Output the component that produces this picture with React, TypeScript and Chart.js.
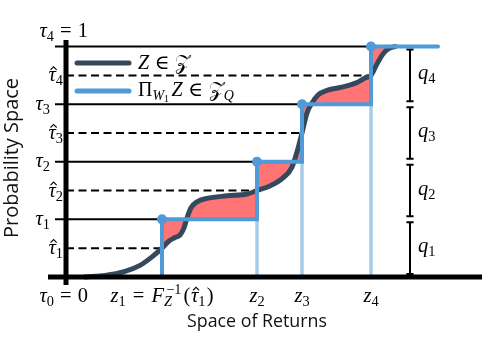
import React, { useEffect, useRef } from "react";
import { Chart, registerables } from "chart.js";
Chart.register(...registerables);

// ---------- data (x: return value, y: cumulative probability) ----------
const tauLevels = [0, 0.25, 0.5, 0.75, 1];
const tauHats = [0.125, 0.375, 0.625, 0.875];
const zValues = [4.8, 9.55, 11.8, 15.25];
const stepEndX = 18.6;
const curveX = [0.95, 1.95, 2.95, 3.7, 4.3, 4.8, 5.15, 5.45, 5.7, 5.9, 6.05, 6.25, 6.55, 7.05, 8.05, 9.05, 9.55, 10.2, 10.85, 11.3, 11.55, 11.8, 12.05, 12.3, 12.6, 13.05, 13.85, 14.55, 14.95, 15.25, 15.55, 15.85, 16.15, 16.45];
const curveY = [0, 0.0065, 0.024, 0.05, 0.087, 0.125, 0.156, 0.171, 0.182, 0.213, 0.256, 0.3, 0.326, 0.341, 0.352, 0.36, 0.375, 0.395, 0.43, 0.477, 0.543, 0.625, 0.712, 0.755, 0.79, 0.81, 0.825, 0.844, 0.864, 0.875, 0.925, 0.968, 0.992, 1.0];
const xRange = [-0.9, 20.8];
const yRange = [-0.035, 1.0286];
const tickStartX = -0.55;
const bracketX = 17.2;
const bracketGap = 0.013;
const bracketCap = 0.18;

const DARK = "#34495e";
const BLUE = "#4f9ad7";
const LIGHT_BLUE = "#a8cbe9";
const RED = "#ff7575";
const SERIF = '"Liberation Serif", "DejaVu Serif", serif';
const SANS = '"Open Sans", "DejaVu Sans", sans-serif';
const MATH = 20.5;
const LEG = 20;

type Tok = { t: string; it?: boolean; k?: "b" | "sub" | "sup" | "ss"; hat?: boolean; stack?: boolean; pre?: number; fam?: string };

function drawMath(ctx: CanvasRenderingContext2D, toks: Tok[], x: number, y: number, size: number, align: "left" | "right" | "center") {
  const items: any[] = [];
  let cur = 0;
  let lastStart = 0;
  for (const tk of toks) {
    const k = tk.k || "b";
    const s = k === "b" ? size : k === "ss" ? size * 0.5 : size * 0.7;
    const dy = k === "sub" ? size * 0.2 : k === "ss" ? size * 0.32 : k === "sup" ? -size * 0.4 : 0;
    const font = `${tk.it ? "italic " : ""}${s.toFixed(2)}px ${tk.fam || SERIF}`;
    ctx.font = font;
    const w = ctx.measureText(tk.t).width;
    let x0: number;
    if (tk.stack) {
      x0 = lastStart + (tk.pre || 0) * size;
      cur = Math.max(cur, x0 + w);
    } else {
      x0 = cur + (tk.pre || 0) * size;
      cur = x0 + w;
    }
    lastStart = x0;
    items.push({ tk, font, x0, dy, w, s });
  }
  const off = align === "left" ? x : align === "right" ? x - cur : x - cur / 2;
  ctx.save();
  ctx.fillStyle = "#000";
  ctx.strokeStyle = "#000";
  ctx.textAlign = "left";
  ctx.textBaseline = "alphabetic";
  for (const it of items) {
    ctx.font = it.font;
    ctx.fillText(it.tk.t, off + it.x0, y + it.dy);
    if (it.tk.hat) {
      const cx = off + it.x0 + it.w / 2 + 0.07 * it.s;
      const by = y + it.dy;
      ctx.beginPath();
      ctx.lineWidth = 1.1;
      ctx.moveTo(cx - 0.15 * it.s, by - 0.56 * it.s);
      ctx.lineTo(cx, by - 0.71 * it.s);
      ctx.lineTo(cx + 0.15 * it.s, by - 0.56 * it.s);
      ctx.stroke();
    }
  }
  ctx.restore();
}

function fitText(ctx: CanvasRenderingContext2D, text: string, width: number, base: number) {
  ctx.font = `${base}px ${SANS}`;
  const w = ctx.measureText(text).width;
  const size = (base * width) / w;
  ctx.font = `${size.toFixed(2)}px ${SANS}`;
}

const annotations = {
  id: "annotations",
  afterDatasetsDraw(chart: any) {
    const ctx: CanvasRenderingContext2D = chart.ctx;
    const xs = chart.scales.x;
    const ys = chart.scales.y;
    const X = (v: number) => xs.getPixelForValue(v);
    const Y = (v: number) => ys.getPixelForValue(v);
    const axisX = X(0);
    const area = chart.chartArea;

    // left tick labels
    drawMath(ctx, [{ t: "τ", it: true }, { t: "4", k: "sub" }, { t: "=", pre: 0.3 }, { t: "1", pre: 0.3 }], axisX + 22, Y(1) - 10, MATH, "right");
    drawMath(ctx, [{ t: "τ", it: true }, { t: "0", k: "sub" }, { t: "=", pre: 0.3 }, { t: "0", pre: 0.3 }], axisX + 22, Y(0) + 25, MATH, "right");
    for (let k = 1; k <= 3; k++) {
      drawMath(ctx, [{ t: "τ", it: true }, { t: String(k), k: "sub" }], axisX - 16, Y(tauLevels[k]) + 5.5, MATH, "right");
    }
    for (let k = 0; k < 4; k++) {
      drawMath(ctx, [{ t: "τ", it: true, hat: true }, { t: String(k + 1), k: "sub" }], axisX - 3, Y(tauHats[k]) + 6, MATH, "right");
    }
    // bottom labels
    drawMath(ctx, [
      { t: "z", it: true }, { t: "1", k: "sub" }, { t: "=", pre: 0.35 }, { t: "F", it: true, pre: 0.35 },
      { t: "Z", it: true, k: "sub" }, { t: "−1", k: "sup", stack: true, pre: 0.1 },
      { t: "(", pre: 0.1 }, { t: "τ", it: true, hat: true, pre: 0.03 }, { t: "1", k: "sub" }, { t: ")", pre: 0.06 },
    ], X(zValues[0]), Y(0) + 25, MATH, "center");
    for (let k = 1; k < 4; k++) {
      drawMath(ctx, [{ t: "z", it: true }, { t: String(k + 1), k: "sub" }], X(zValues[k]), Y(0) + 25, MATH, "center");
    }
    // q labels
    for (let k = 0; k < 4; k++) {
      drawMath(ctx, [{ t: "q", it: true }, { t: String(k + 1), k: "sub" }], X(bracketX) + 8, Y(tauHats[k]) + 4, MATH, "left");
    }
    // legend
    const lx0 = area.left + 29, lx1 = area.left + 81;
    const rows = [area.top + 23, area.top + 51];
    const cols = [DARK, BLUE];
    ctx.save();
    ctx.lineCap = "round";
    ctx.lineWidth = 5;
    for (let i = 0; i < 2; i++) {
      ctx.strokeStyle = cols[i];
      ctx.beginPath();
      ctx.moveTo(lx0, rows[i]);
      ctx.lineTo(lx1, rows[i]);
      ctx.stroke();
    }
    ctx.restore();
    drawMath(ctx, [{ t: "Z", it: true }, { t: "∈", pre: 0.28 }, { t: "𝒵", pre: 0.28 }], area.left + 90, rows[0] + 6, LEG, "left");
    drawMath(ctx, [
      { t: "Π" }, { t: "W", it: true, k: "sub" }, { t: "1", k: "ss" }, { t: "Z", it: true, pre: 0.12 },
      { t: "∈", pre: 0.28 }, { t: "𝒵", pre: 0.28 }, { t: "Q", it: true, k: "sub" },
    ], area.left + 90, rows[1] + 5, LEG, "left");

    // axis titles
    ctx.save();
    ctx.fillStyle = "#111";
    ctx.textAlign = "center";
    ctx.textBaseline = "alphabetic";
    fitText(ctx, "Space of Returns", 140, 16);
    ctx.fillText("Space of Returns", area.left + 209, 327);
    ctx.translate(18, area.top + 118);
    ctx.rotate(-Math.PI / 2);
    fitText(ctx, "Probability Space", 160, 16);
    ctx.fillText("Probability Space", 0, 0);
    ctx.restore();
  },
};

export default function App() {
  const ref = useRef<HTMLCanvasElement>(null);
  useEffect(() => {
    const line = (data: any[], color: string, width: number, order: number, extra: any = {}) => ({
      data, borderColor: color, borderWidth: width, pointRadius: 0, pointHoverRadius: 0,
      fill: false, tension: 0, order, clip: false, ...extra,
    });

    const stepPts: any[] = [{ x: zValues[0], y: 0 }];
    for (let k = 0; k < 4; k++) {
      stepPts.push({ x: zValues[k], y: tauLevels[k + 1] });
      stepPts.push({ x: k < 3 ? zValues[k + 1] : stepEndX, y: tauLevels[k + 1] });
    }
    const fillTarget = stepPts.slice(1);
    const curvePts = curveX.map((x, i) => ({ x, y: curveY[i] }));

    const datasets: any[] = [];
    // axes
    datasets.push(line([{ x: xRange[0], y: 0 }, { x: xRange[1], y: 0 }], "#000", 5, 0));
    datasets.push(line([{ x: 0, y: yRange[0] }, { x: 0, y: yRange[1] }], "#000", 5, 0));
    // step function (projection)
    datasets.push(line(stepPts, BLUE, 4, 1, {
      pointRadius: stepPts.map((_, i) => (i % 2 === 1 ? 5 : 0)),
      pointBackgroundColor: BLUE, pointBorderWidth: 0, borderCapStyle: "round", borderJoinStyle: "miter",
    }));
    // CDF curve, filled to the step function
    const curveIdx = datasets.length;
    datasets.push(line(curvePts, DARK, 5, 2, { cubicInterpolationMode: "monotone", backgroundColor: RED, borderCapStyle: "round" }));
    // light verticals below the steps
    for (let k = 1; k < 4; k++) {
      datasets.push(line([{ x: zValues[k], y: 0 }, { x: zValues[k], y: tauLevels[k] }], LIGHT_BLUE, 3.5, 3));
    }
    // tau lines
    for (let k = 1; k <= 4; k++) {
      datasets.push(line([{ x: tickStartX, y: tauLevels[k] }, { x: zValues[k - 1], y: tauLevels[k] }], "#000", 2, 4));
    }
    // tau-hat dashed lines
    for (let k = 0; k < 4; k++) {
      datasets.push(line([{ x: 0, y: tauHats[k] }, { x: zValues[k], y: tauHats[k] }], "#000", 2, 4, { borderDash: [8, 4.5] }));
    }
    // q brackets
    for (let k = 0; k < 4; k++) {
      const lo = tauLevels[k] + bracketGap;
      const hi = tauLevels[k + 1] - bracketGap;
      datasets.push(line([
        { x: bracketX - bracketCap, y: lo }, { x: bracketX + bracketCap, y: lo }, { x: bracketX + bracketCap, y: null },
        { x: bracketX, y: lo }, { x: bracketX, y: hi }, { x: bracketX, y: null },
        { x: bracketX - bracketCap, y: hi }, { x: bracketX + bracketCap, y: hi },
      ], "#000", 2, 4));
    }
    // invisible fill target (step function from z1 on)
    const targetIdx = datasets.length;
    datasets.push(line(fillTarget, "rgba(0,0,0,0)", 0, 20));
    datasets[curveIdx].fill = targetIdx;

    const chart = new Chart(ref.current as HTMLCanvasElement, {
      type: "line",
      data: { datasets },
      options: {
        responsive: false,
        animation: false,
        events: [],
        layout: { padding: { left: 48, right: 8, top: 40, bottom: 58 } },
        scales: {
          x: { type: "linear", min: xRange[0], max: xRange[1], display: false },
          y: { type: "linear", min: yRange[0], max: yRange[1], display: false },
        },
        plugins: {
          legend: { display: false },
          tooltip: { enabled: false },
          filler: { drawTime: "beforeDatasetsDraw", propagate: true },
        },
      } as any,
      plugins: [annotations],
    } as any);
    return () => chart.destroy();
  }, []);
  return (
    <canvas
      ref={ref}
      width={490}
      height={343}
      style={{ position: "fixed", left: 0, top: 0, width: "490px", height: "343px", background: "#fff" }}
    />
  );
}
